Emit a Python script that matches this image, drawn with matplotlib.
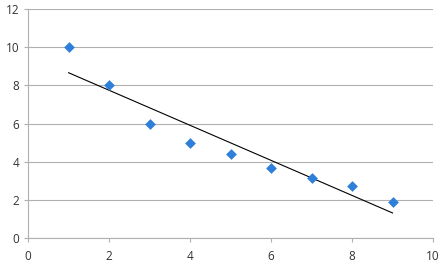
import numpy as np
import matplotlib
matplotlib.use('Agg')
import matplotlib.pyplot as plt

x_vals = [1, 2, 3, 4, 5, 6, 7, 8, 9]
y_vals = [10, 8, 6, 5, 4.4, 3.67, 3.17, 2.75, 1.9]

plt.rcParams['font.family'] = ['Open Sans', 'DejaVu Sans']

fig = plt.figure(figsize=(4.46, 2.68), dpi=100)
ax = fig.add_axes([0.063, 0.112, 0.908, 0.854])

# linear trendline, like Excel's
slope, inter = np.polyfit(x_vals, y_vals, 1)
tx = np.array([min(x_vals), max(x_vals)])
ax.plot(tx, slope * tx + inter, color='black', lw=0.8, zorder=2)

ax.scatter(x_vals, y_vals, marker='D', s=30, color='#2e7fd9', zorder=3, linewidths=0)

ax.set_xlim(0, 10)
ax.set_ylim(0, 12)
ax.set_xticks(range(0, 11, 2))
ax.set_yticks(range(0, 13, 2))
ax.grid(axis='y', color='#b0b0b0', lw=0.8)
ax.set_axisbelow(True)

for s in ['top', 'right']:
    ax.spines[s].set_visible(False)
for s in ['left', 'bottom']:
    ax.spines[s].set_color('#b0b0b0')
    ax.spines[s].set_linewidth(0.8)
ax.tick_params(axis='both', colors='#b0b0b0', length=3, width=0.8, labelsize=8.5,
               labelcolor='#333333')
ax.tick_params(axis='x', pad=6)

fig.savefig('out.png', dpi=100)
